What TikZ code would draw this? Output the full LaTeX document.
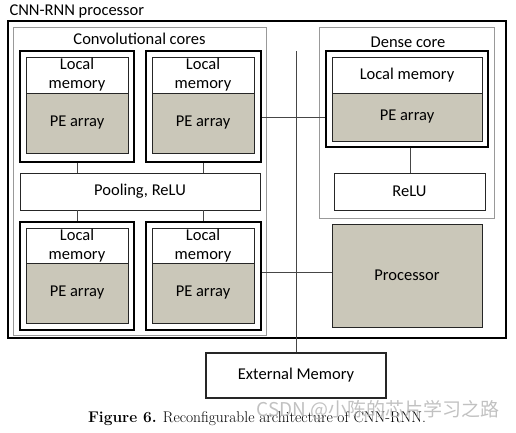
\documentclass[tikz,border=0pt]{standalone}
\usepackage{fontspec}
\setmainfont{Carlito}
\newfontfamily\capfont{Latin Modern Roman}
\newfontfamily\cjk{Noto Sans CJK SC}
\usetikzlibrary{positioning}
\definecolor{pegray}{RGB}{202,199,185}
\definecolor{linegray}{RGB}{70,70,70}
\begin{document}
\begin{tikzpicture}[x=1pt,y=-1pt,
  every node/.style={font=\fontsize{16.5}{18}\selectfont, inner sep=0pt, text centered},
  outerbox/.style={rectangle, draw=black, line width=1.4pt},
  groupbox/.style={rectangle, draw=gray!80, line width=0.9pt},
  corebox/.style={rectangle, draw=black, line width=1.8pt},
  memcell/.style={rectangle, draw=black!85, line width=0.9pt, fill=white, text width=2cm},
  pecell/.style={rectangle, draw=black!85, line width=0.9pt, fill=pegray},
  plainbox/.style={rectangle, draw=black!85, line width=0.9pt},
  link/.style={draw=linegray, line width=0.9pt}]
\useasboundingbox (0,0) rectangle (516,432);

% processor frame
\node[outerbox, minimum width=498pt, minimum height=317pt] at (257,179.5) (cnnrnn) {};
\node[anchor=south west] at ([xshift=2pt,yshift=2pt]cnnrnn.north west) (cnnrnnlabel) {CNN-RNN processor};

% convolutional cores
\node[groupbox, minimum width=253pt, minimum height=308pt] at (139.5,181) (conv) {};
\node at (139.5,39) (convlabel) {Convolutional cores};
\node[corebox, minimum width=114pt, minimum height=111pt] at (77,106.5) (C1) {};
\node[corebox, minimum width=115pt, minimum height=111pt] at (203.5,106.5) (C2) {};
\node[corebox, minimum width=114pt, minimum height=108pt] at (77,276) (C3) {};
\node[corebox, minimum width=115pt, minimum height=108pt] at (203.5,276) (C4) {};
\node[memcell, minimum width=102pt, minimum height=36pt] at (77,75) (M1) {Local\\[1pt]memory};
\node[pecell, minimum width=102pt, minimum height=60pt] at (77,123) (P1) {PE array};
\node[memcell, minimum width=102pt, minimum height=36pt] at (203,75) (M2) {Local\\[1pt]memory};
\node[pecell, minimum width=102pt, minimum height=60pt] at (203,123) (P2) {PE array};
\node[memcell, minimum width=102pt, minimum height=35pt] at (77,245.5) (M3) {Local\\[1pt]memory};
\node[pecell, minimum width=102pt, minimum height=60pt] at (77,293) (P3) {PE array};
\node[memcell, minimum width=102pt, minimum height=35pt] at (203,245.5) (M4) {Local\\[1pt]memory};
\node[pecell, minimum width=102pt, minimum height=60pt] at (203,293) (P4) {PE array};
\node[plainbox, minimum width=240pt, minimum height=37pt] at (140,191.5) (pool) {Pooling, ReLU};
\draw[link] (C1.south) -- (C1.south |- pool.north);
\draw[link] (C2.south) -- (C2.south |- pool.north);
\draw[link] (C1.south |- pool.south) -- (C3.north);
\draw[link] (C2.south |- pool.south) -- (C4.north);

% dense core
\node[groupbox, minimum width=175pt, minimum height=191pt] at (406.5,122.5) (dense) {};
\node at (408,42) (denselabel) {Dense core};
\node[corebox, minimum width=162pt, minimum height=96pt] at (407,99) (D) {};
\node[memcell, text width=, minimum width=150pt, minimum height=36pt] at (407,75) (DM) {Local memory};
\node[pecell, minimum width=150pt, minimum height=48pt] at (407,117) (DP) {PE array};
\node[plainbox, minimum width=151pt, minimum height=37pt] at (409.5,191.5) (relu) {ReLU};
\draw[link] ([xshift=3pt]D.south) -- ([xshift=3pt]D.south |- relu.north);

% processor and memory
\node[pecell, minimum width=150pt, minimum height=103pt] at (407,275.5) (proc) {Processor};
\node[plainbox, line width=1.2pt, minimum width=180pt, minimum height=45pt] at (296,375.5) (ext) {External Memory};

% bus
\coordinate (bustop) at (296,51);
\draw[link] (bustop) -- (ext.north);
\draw[link] (C2.east |- 0,117) -- (D.west |- 0,117);
\draw[link] (C4.east |- 0,272) -- (proc.west |- 0,272);

% caption and mark
\node[font=\capfont\fontsize{15.5}{17}\selectfont] at (257,419) (caption) {\textbf{Figure 6.} Reconfigurable architecture of CNN-RNN.};
\node[anchor=east, font=\cjk\fontsize{19}{20}\selectfont, text=gray!60, opacity=0.8] at (500,410) (mark) {CSDN @小陈的芯片学习之路};
\end{tikzpicture}
\end{document}
